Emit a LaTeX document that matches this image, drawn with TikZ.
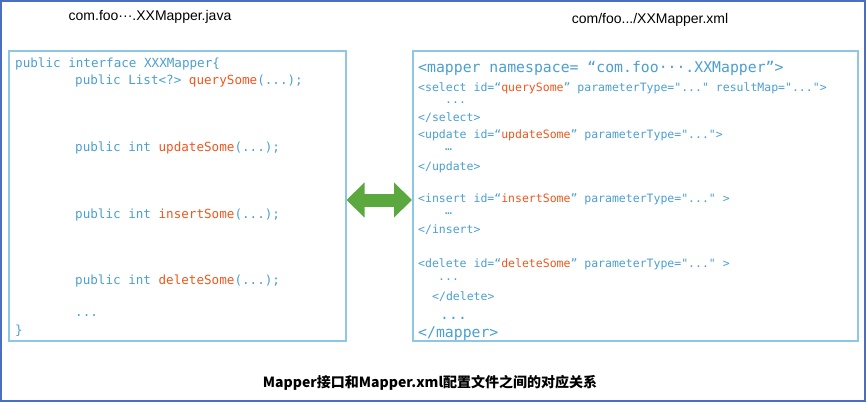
\documentclass[tikz,border=0pt]{standalone}
\usepackage{fontspec}
\setmainfont{Liberation Sans}
\setmonofont{DejaVu Sans Mono}
\newfontfamily\cjk{Noto Sans CJK SC}
\usetikzlibrary{arrows.meta}
\definecolor{cb}{HTML}{4A9FD2}
\definecolor{co}{HTML}{F0561C}
\definecolor{bx}{HTML}{8EC6E6}
\definecolor{gr}{HTML}{5BA83E}
\definecolor{ob}{HTML}{4A6FC0}
\begin{document}
\begin{tikzpicture}[x=1pt,y=-1pt,
  code/.style={anchor=west,inner sep=0pt,text=cb,font=\ttfamily\fontsize{12.6}{14}\selectfont},
  xcode/.style={anchor=west,inner sep=0pt,text=cb,font=\ttfamily\fontsize{11.5}{14}\selectfont},
  panel/.style={draw=bx,line width=1.5pt}]
\useasboundingbox (0,0) rectangle (866,402);
\draw[ob,line width=1.5pt] (1,1) rectangle (865,401);
\node[panel,minimum width=337pt,minimum height=290pt,anchor=north west] (L) at (8,50) {};
\node[panel,minimum width=445pt,minimum height=290pt,anchor=north west] (R) at (412,50) {};
\node[font=\fontsize{14}{16}\selectfont] (t1) at (150,17) {com.foo\textperiodcentered\textperiodcentered\textperiodcentered.XXMapper.java};
\node[font=\fontsize{14}{16}\selectfont] (t2) at (650,20) {com/foo.../XXMapper.xml};
\node[font=\cjk\bfseries\fontsize{14}{16}\selectfont] (cap) at (430,383) {Mapper接口和Mapper.xml配置文件之间的对应关系};
% left code
\node[code] (l1) at (15,64) {public interface XXXMapper\{};
\node[code] (l2) at (75,81) {public List<?> \textcolor{co}{querySome}(...);};
\node[code] (l3) at (75,148) {public int \textcolor{co}{updateSome}(...);};
\node[code] (l4) at (75,215) {public int \textcolor{co}{insertSome}(...);};
\node[code] (l5) at (75,281) {public int \textcolor{co}{deleteSome}(...);};
\node[code] (l6) at (75,316) {...};
\node[code] (l7) at (15,331) {\}};
% right code
\node[xcode,font=\ttfamily\fontsize{14.8}{17}\selectfont] (r1) at (418,68) {<mapper namespace= “com.foo\textperiodcentered\textperiodcentered\textperiodcentered.XXMapper”>};
\node[xcode] (r2) at (418,88) {<select id=“\textcolor{co}{querySome}” parameterType="..." resultMap="...">};
\node[xcode] (r3) at (445,103) {...};
\node[xcode] (r4) at (418,118) {</select>};
\node[xcode] (r5) at (418,135) {<update id=“\textcolor{co}{updateSome}” parameterType="...">};
\node[xcode] (r6) at (445,150) {…};
\node[xcode] (r7) at (418,167) {</update>};
\node[xcode] (r8) at (418,199) {<insert id=“\textcolor{co}{insertSome}” parameterType="..." >};
\node[xcode] (r9) at (445,214) {…};
\node[xcode] (r10) at (418,230) {</insert>};
\node[xcode] (r11) at (418,264) {<delete id=“\textcolor{co}{deleteSome}” parameterType="..." >};
\node[xcode] (r12) at (438,280) {...};
\node[xcode] (r13) at (432,297) {</delete>};
\node[xcode,font=\ttfamily\fontsize{14.8}{17}\selectfont] (r14) at (440,318) {...};
\node[xcode,font=\ttfamily\fontsize{14.8}{17}\selectfont] (r15) at (418,334) {</mapper>};
% double arrow
\draw[gr,line width=13pt,{Triangle[width=34pt,length=18pt]}-{Triangle[width=34pt,length=18pt]}] (L.east|-0,200) -- (R.west|-0,200);
\end{tikzpicture}
\end{document}
